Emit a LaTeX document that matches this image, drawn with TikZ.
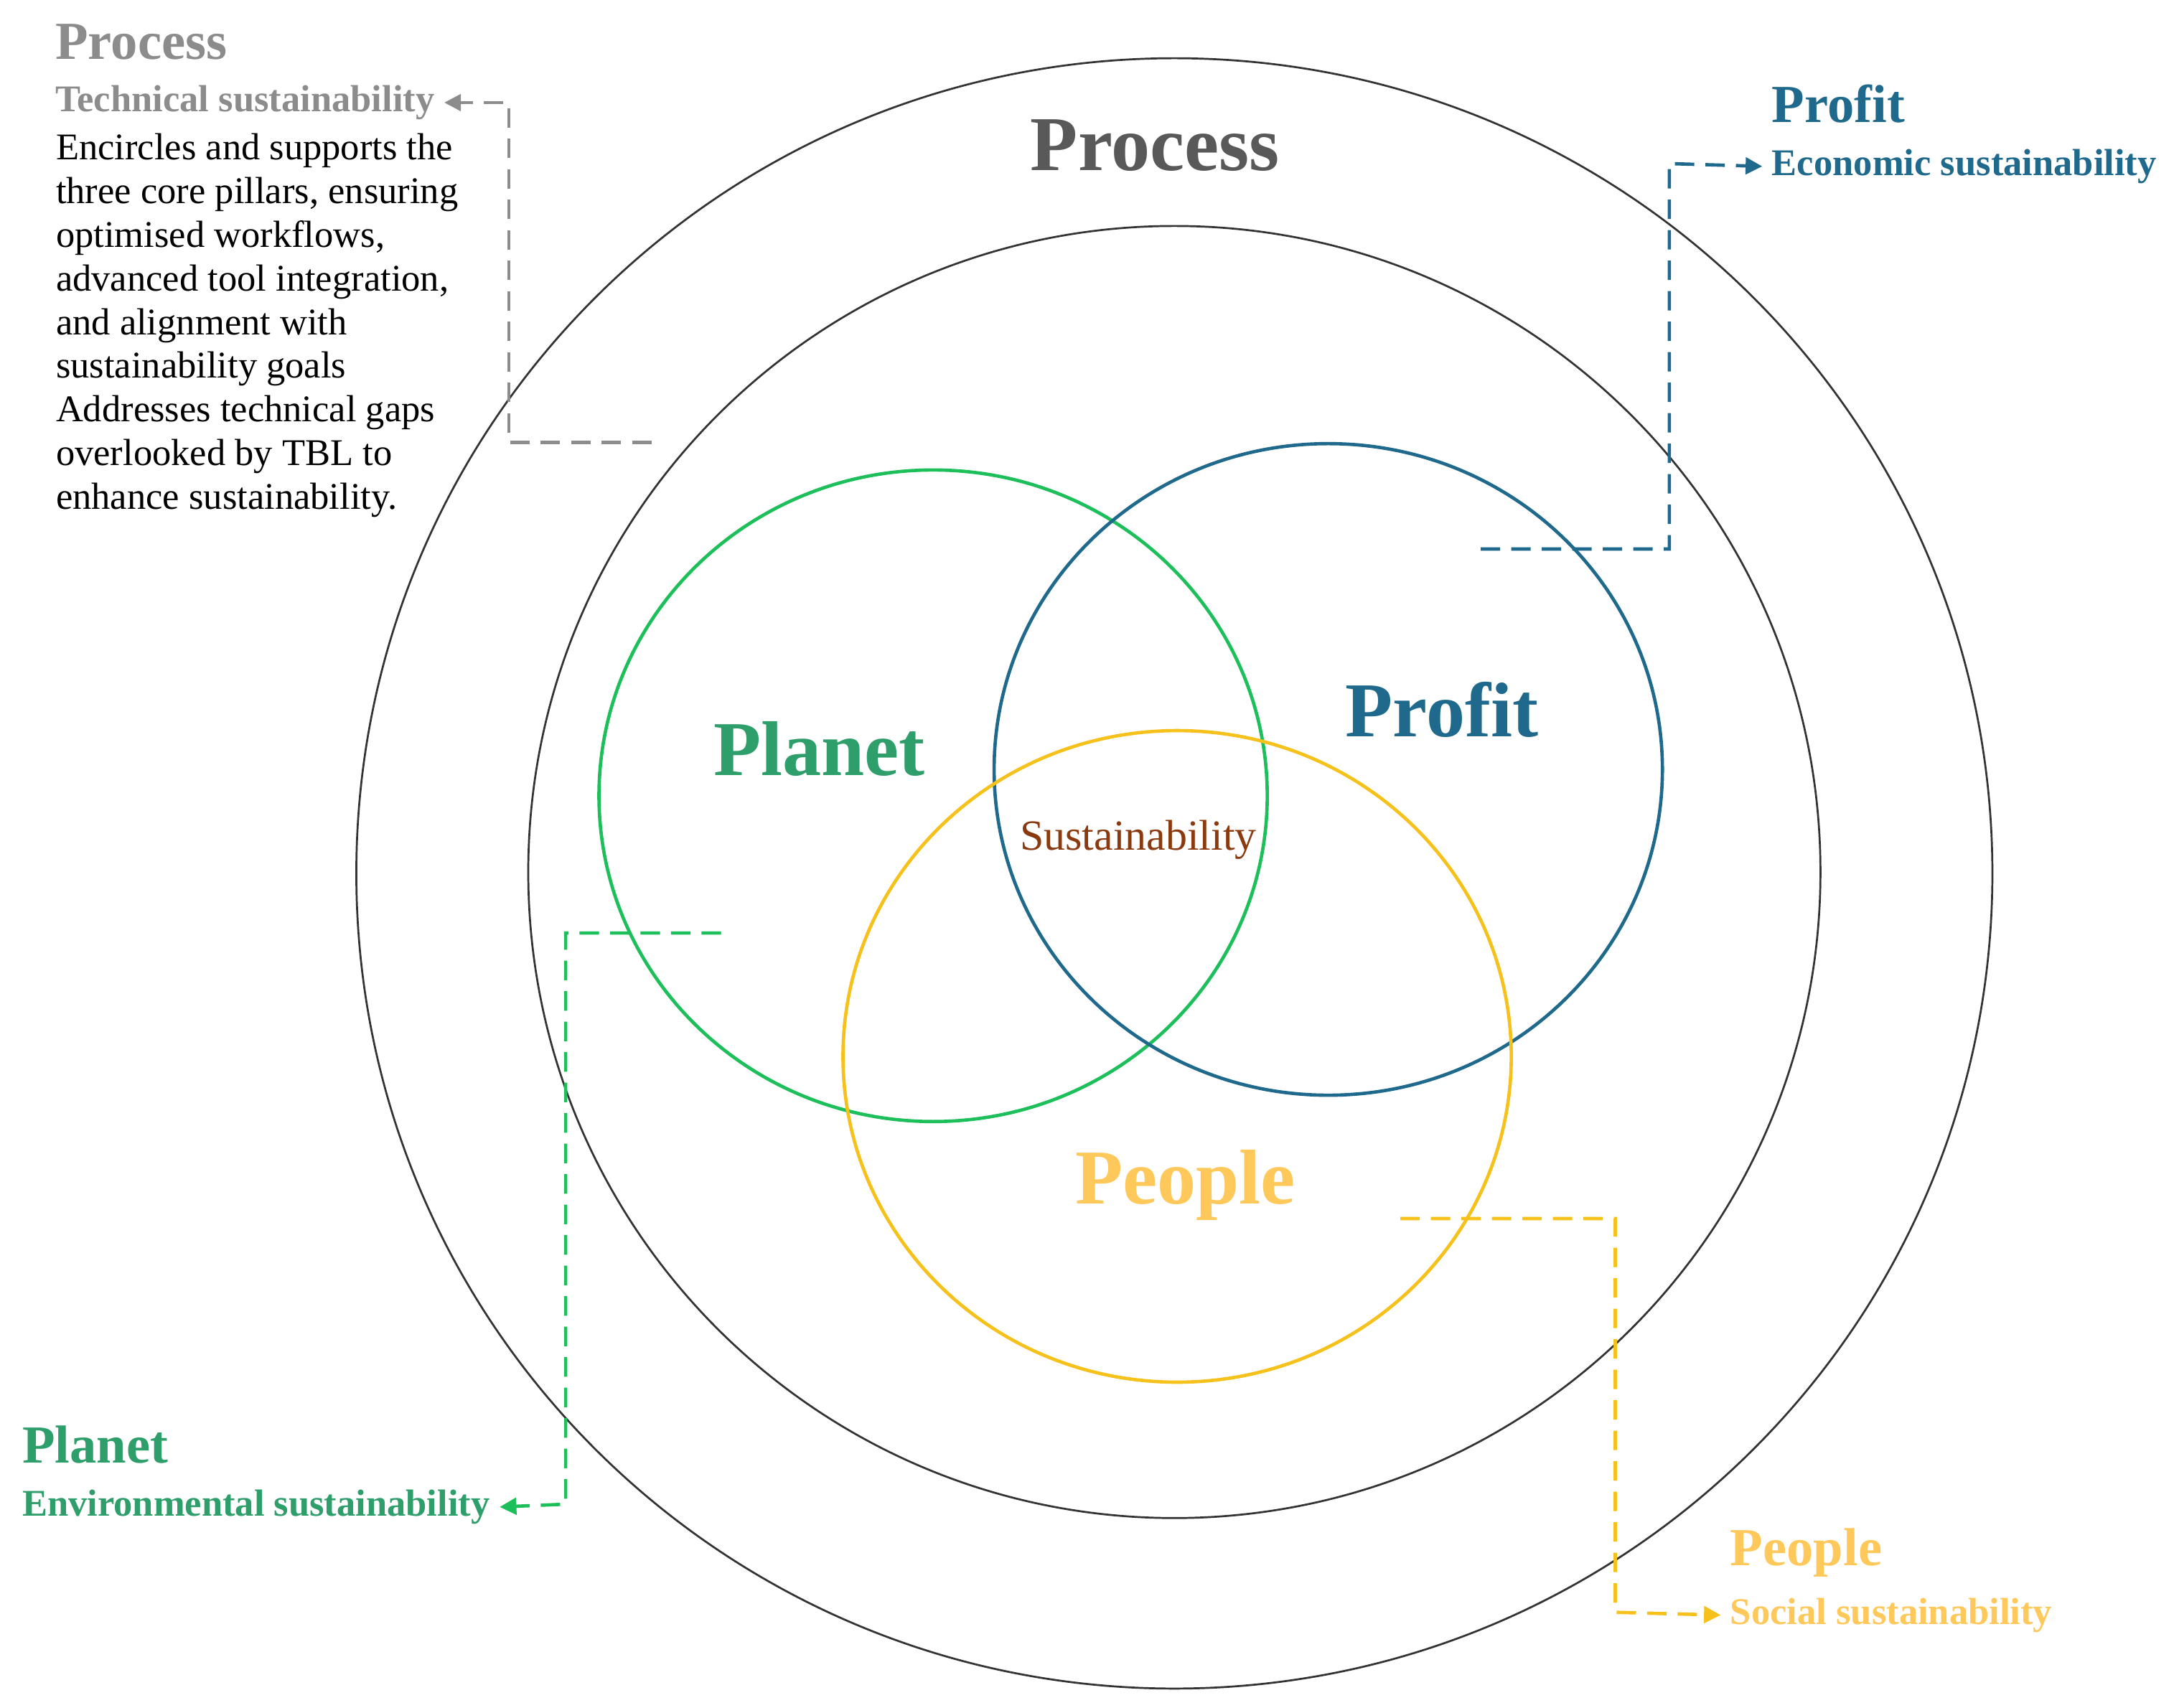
\documentclass[tikz,border=0pt]{standalone}
\usepackage{fontspec}
\setmainfont{Liberation Serif}
\usetikzlibrary{arrows.meta}
\definecolor{cgray}{HTML}{595959}
\definecolor{lgray}{HTML}{8C8C8C}
\definecolor{cgreen}{HTML}{2E9E6A}
\definecolor{lgreen}{HTML}{1DBF5A}
\definecolor{cblue}{HTML}{1F6A8C}
\definecolor{cyel}{HTML}{FFC85A}
\definecolor{lyel}{HTML}{F5C11A}
\definecolor{cbrown}{HTML}{8B3A0F}
\begin{document}
\begin{tikzpicture}[x=0.5pt,y=-0.5pt,
  big/.style={font=\rmfamily\fontsize{28}{30}\selectfont\bfseries},
  head/.style={anchor=west,font=\rmfamily\fontsize{19.3}{22}\selectfont\bfseries},
  sub/.style={anchor=west,font=\rmfamily\fontsize{13.6}{16}\selectfont\bfseries},
  lead/.style={dashed,line width=1.2pt,dash pattern=on 7pt off 4pt},
  tip/.style={-{Triangle[length=6pt,width=6pt]}}]
\useasboundingbox (0,0) rectangle (1568,1232);
\fill[white] (0,0) rectangle (1568,1232);
\draw[line width=0.7pt,black!80] (847,630) ellipse [x radius=590,y radius=588];
\draw[line width=0.7pt,black!80] (847,629) ellipse [x radius=466,y radius=466];
\draw[line width=1.2pt,lgreen] (673,574) ellipse [x radius=241,y radius=235];
\draw[line width=1.2pt,cblue] (958,555) ellipse [x radius=241,y radius=235];
\draw[line width=1.2pt,lyel] (849,762) ellipse [x radius=241,y radius=235];
\node[big,cgray] (proc) at (833,105) {Process};
\node[big,cgreen] (plan) at (591,540) {Planet};
\node[big,cblue] (prof) at (1040,512) {Profit};
\node[big,cyel] (peop) at (855,855) {People};
\node[cbrown,font=\rmfamily\fontsize{15.5}{18}\selectfont] (sus) at (821,606) {Sustainability};
% top-left
\node[head,lgray] (tproc) at (33,30) {Process};
\node[sub,lgray] (ttech) at (33,74) {Technical sustainability};
\node[anchor=north west,align=left,inner sep=0pt,font=\rmfamily\fontsize{13.6}{15.75}\selectfont] (para) at (40,96) {Encircles and supports the\\three core pillars, ensuring\\optimised workflows,\\advanced tool integration,\\and alignment with\\sustainability goals\\Addresses technical gaps\\overlooked by TBL to\\enhance sustainability.};
\coordinate (a1) at (470,319);
\draw[lead,lgray,tip] (a1) -- (367,319) -- (367,74) -- (ttech.east);
% top-right
\node[head,cblue] (tprof) at (1271,75) {Profit};
\node[sub,cblue] (tecon) at (1271,120) {Economic sustainability};
\coordinate (a2) at (1068,396);
\draw[lead,cblue,tip] (a2) -- (1204,396) -- (1204,118) -- (tecon.west);
% bottom-left
\node[head,cgreen] (tplan) at (9,1042) {Planet};
\node[sub,cgreen] (tenv) at (9,1087) {Environmental sustainability};
\coordinate (a3) at (520,673);
\draw[lead,lgreen,tip] (a3) -- (408,673) -- (408,1085) -- (tenv.east);
% bottom-right
\node[head,cyel] (tpeop) at (1241,1120) {People};
\node[sub,cyel] (tsoc) at (1241,1165) {Social sustainability};
\coordinate (a4) at (1010,879);
\draw[lead,lyel,tip] (a4) -- (1165,879) -- (1165,1163) -- (tsoc.west);
\end{tikzpicture}
\end{document}
